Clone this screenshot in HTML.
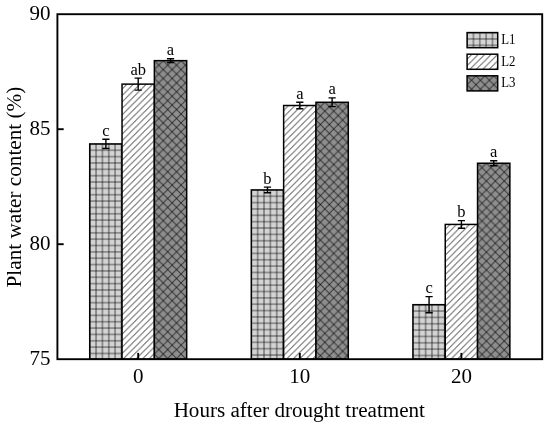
<!DOCTYPE html>
<html><head><meta charset="utf-8"><title>Plant water content</title>
<style>html,body{margin:0;padding:0;background:#fff;width:550px;height:424px;overflow:hidden}svg{display:block}</style>
</head><body>
<svg width="550" height="424" viewBox="0 0 550 424" font-family="'Liberation Serif', 'Times New Roman', serif" fill="#000">
<defs><pattern id="p1" patternUnits="userSpaceOnUse" x="89.72" y="143.92" width="6.35" height="6.35"><rect width="6.35" height="6.35" fill="#d3d3d3"/><path d="M-1 0H7.35M-1 6.35H7.35" stroke="#000" stroke-opacity="0.66" stroke-width="0.95"/><path d="M0 -1V7.35M6.35 -1V7.35" stroke="#000" stroke-opacity="0.66" stroke-width="0.95"/></pattern><pattern id="p2" patternUnits="userSpaceOnUse" x="122.04" y="84.12" width="6.45" height="6.45"><rect width="6.45" height="6.45" fill="#fff"/><path d="M5.000 -6.450L-6.450 5.000M11.450 -6.450L-6.450 11.450M17.900 -6.450L-6.450 17.900M24.350 -6.450L-6.450 24.350" stroke="#000" stroke-opacity="0.92" stroke-width="0.9"/></pattern><pattern id="p3" patternUnits="userSpaceOnUse" x="154.36" y="60.66" width="8.89" height="8.89"><rect width="8.89" height="8.89" fill="#8e8e8e"/><path d="M-8.89 -8.89L17.78 17.78M-8.89 0L8.89 17.78M0 -8.89L17.78 8.89" stroke="#000" stroke-opacity="0.6" stroke-width="1.0"/><path d="M-8.89 17.78L17.78 -8.89M-8.89 8.89L8.89 -8.89M0 17.78L17.78 0" stroke="#000" stroke-opacity="0.6" stroke-width="1.0"/></pattern><pattern id="p4" patternUnits="userSpaceOnUse" x="251.32" y="189.92" width="6.35" height="6.35"><rect width="6.35" height="6.35" fill="#d3d3d3"/><path d="M-1 0H7.35M-1 6.35H7.35" stroke="#000" stroke-opacity="0.66" stroke-width="0.95"/><path d="M0 -1V7.35M6.35 -1V7.35" stroke="#000" stroke-opacity="0.66" stroke-width="0.95"/></pattern><pattern id="p5" patternUnits="userSpaceOnUse" x="283.64" y="105.51" width="6.45" height="6.45"><rect width="6.45" height="6.45" fill="#fff"/><path d="M5.000 -6.450L-6.450 5.000M11.450 -6.450L-6.450 11.450M17.900 -6.450L-6.450 17.900M24.350 -6.450L-6.450 24.350" stroke="#000" stroke-opacity="0.92" stroke-width="0.9"/></pattern><pattern id="p6" patternUnits="userSpaceOnUse" x="315.96" y="102.29" width="8.89" height="8.89"><rect width="8.89" height="8.89" fill="#8e8e8e"/><path d="M-8.89 -8.89L17.78 17.78M-8.89 0L8.89 17.78M0 -8.89L17.78 8.89" stroke="#000" stroke-opacity="0.6" stroke-width="1.0"/><path d="M-8.89 17.78L17.78 -8.89M-8.89 8.89L8.89 -8.89M0 17.78L17.78 0" stroke="#000" stroke-opacity="0.6" stroke-width="1.0"/></pattern><pattern id="p7" patternUnits="userSpaceOnUse" x="412.92" y="304.69" width="6.35" height="6.35"><rect width="6.35" height="6.35" fill="#d3d3d3"/><path d="M-1 0H7.35M-1 6.35H7.35" stroke="#000" stroke-opacity="0.66" stroke-width="0.95"/><path d="M0 -1V7.35M6.35 -1V7.35" stroke="#000" stroke-opacity="0.66" stroke-width="0.95"/></pattern><pattern id="p8" patternUnits="userSpaceOnUse" x="445.24" y="224.42" width="6.45" height="6.45"><rect width="6.45" height="6.45" fill="#fff"/><path d="M5.000 -6.450L-6.450 5.000M11.450 -6.450L-6.450 11.450M17.900 -6.450L-6.450 17.900M24.350 -6.450L-6.450 24.350" stroke="#000" stroke-opacity="0.92" stroke-width="0.9"/></pattern><pattern id="p9" patternUnits="userSpaceOnUse" x="477.56" y="163.24" width="8.89" height="8.89"><rect width="8.89" height="8.89" fill="#8e8e8e"/><path d="M-8.89 -8.89L17.78 17.78M-8.89 0L8.89 17.78M0 -8.89L17.78 8.89" stroke="#000" stroke-opacity="0.6" stroke-width="1.0"/><path d="M-8.89 17.78L17.78 -8.89M-8.89 8.89L8.89 -8.89M0 17.78L17.78 0" stroke="#000" stroke-opacity="0.6" stroke-width="1.0"/></pattern><pattern id="p10" patternUnits="userSpaceOnUse" x="467.10" y="32.60" width="6.35" height="6.35"><rect width="6.35" height="6.35" fill="#d3d3d3"/><path d="M-1 0H7.35M-1 6.35H7.35" stroke="#000" stroke-opacity="0.66" stroke-width="0.95"/><path d="M0 -1V7.35M6.35 -1V7.35" stroke="#000" stroke-opacity="0.66" stroke-width="0.95"/></pattern><pattern id="p11" patternUnits="userSpaceOnUse" x="467.10" y="54.20" width="6.45" height="6.45"><rect width="6.45" height="6.45" fill="#fff"/><path d="M5.000 -6.450L-6.450 5.000M11.450 -6.450L-6.450 11.450M17.900 -6.450L-6.450 17.900M24.350 -6.450L-6.450 24.350" stroke="#000" stroke-opacity="0.92" stroke-width="0.9"/></pattern><pattern id="p12" patternUnits="userSpaceOnUse" x="467.10" y="75.80" width="8.89" height="8.89"><rect width="8.89" height="8.89" fill="#8e8e8e"/><path d="M-8.89 -8.89L17.78 17.78M-8.89 0L8.89 17.78M0 -8.89L17.78 8.89" stroke="#000" stroke-opacity="0.6" stroke-width="1.0"/><path d="M-8.89 17.78L17.78 -8.89M-8.89 8.89L8.89 -8.89M0 17.78L17.78 0" stroke="#000" stroke-opacity="0.6" stroke-width="1.0"/></pattern><filter id="soft" x="0" y="0" width="100%" height="100%" filterUnits="userSpaceOnUse"><feGaussianBlur stdDeviation="0.3"/></filter></defs>
<rect width="550" height="424" fill="#fff"/>
<g filter="url(#soft)">
<rect width="550" height="424" fill="#fff"/>
<rect x="89.72" y="143.92" width="32.32" height="215.28" fill="url(#p1)" stroke="#000" stroke-width="1.5"/>
<rect x="122.04" y="84.12" width="32.32" height="275.08" fill="url(#p2)" stroke="#000" stroke-width="1.5"/>
<rect x="154.36" y="60.66" width="32.32" height="298.54" fill="url(#p3)" stroke="#000" stroke-width="1.5"/>
<rect x="251.32" y="189.92" width="32.32" height="169.28" fill="url(#p4)" stroke="#000" stroke-width="1.5"/>
<rect x="283.64" y="105.51" width="32.32" height="253.69" fill="url(#p5)" stroke="#000" stroke-width="1.5"/>
<rect x="315.96" y="102.29" width="32.32" height="256.91" fill="url(#p6)" stroke="#000" stroke-width="1.5"/>
<rect x="412.92" y="304.69" width="32.32" height="54.51" fill="url(#p7)" stroke="#000" stroke-width="1.5"/>
<rect x="445.24" y="224.42" width="32.32" height="134.78" fill="url(#p8)" stroke="#000" stroke-width="1.5"/>
<rect x="477.56" y="163.24" width="32.32" height="195.96" fill="url(#p9)" stroke="#000" stroke-width="1.5"/>
<path d="M105.88 139.32V148.52M102.28 139.32H109.48M102.28 148.52H109.48" stroke="#000" stroke-width="1.4" fill="none"/>
<text x="105.88" y="135.72" text-anchor="middle" font-size="16.5">c</text>
<path d="M138.20 78.14V90.10M134.60 78.14H141.80M134.60 90.10H141.80" stroke="#000" stroke-width="1.4" fill="none"/>
<text x="138.20" y="74.54" text-anchor="middle" font-size="16.5">ab</text>
<path d="M170.52 58.82V62.50M166.92 58.82H174.12M166.92 62.50H174.12" stroke="#000" stroke-width="1.4" fill="none"/>
<text x="170.52" y="55.22" text-anchor="middle" font-size="16.5">a</text>
<path d="M267.48 187.16V192.68M263.88 187.16H271.08M263.88 192.68H271.08" stroke="#000" stroke-width="1.4" fill="none"/>
<text x="267.48" y="183.56" text-anchor="middle" font-size="16.5">b</text>
<path d="M299.80 102.29V108.73M296.20 102.29H303.40M296.20 108.73H303.40" stroke="#000" stroke-width="1.4" fill="none"/>
<text x="299.80" y="98.69" text-anchor="middle" font-size="16.5">a</text>
<path d="M332.12 97.92V106.66M328.52 97.92H335.72M328.52 106.66H335.72" stroke="#000" stroke-width="1.4" fill="none"/>
<text x="332.12" y="94.32" text-anchor="middle" font-size="16.5">a</text>
<path d="M429.08 296.64V312.74M425.48 296.64H432.68M425.48 312.74H432.68" stroke="#000" stroke-width="1.4" fill="none"/>
<text x="429.08" y="293.04" text-anchor="middle" font-size="16.5">c</text>
<path d="M461.40 220.62V228.22M457.80 220.62H465.00M457.80 228.22H465.00" stroke="#000" stroke-width="1.4" fill="none"/>
<text x="461.40" y="217.02" text-anchor="middle" font-size="16.5">b</text>
<path d="M493.72 160.71V165.77M490.12 160.71H497.32M490.12 165.77H497.32" stroke="#000" stroke-width="1.4" fill="none"/>
<text x="493.72" y="157.11" text-anchor="middle" font-size="16.5">a</text>
<rect x="57.4" y="14.2" width="484.80" height="345.00" fill="none" stroke="#000" stroke-width="1.9"/>
<text transform="translate(50.50 365.40) scale(0.955 1)" text-anchor="end" font-size="22">75</text>
<path d="M57.4 244.20H63.699999999999996" stroke="#000" stroke-width="1.9"/>
<text transform="translate(50.50 250.40) scale(0.955 1)" text-anchor="end" font-size="22">80</text>
<path d="M57.4 129.20H63.699999999999996" stroke="#000" stroke-width="1.9"/>
<text transform="translate(50.50 135.40) scale(0.955 1)" text-anchor="end" font-size="22">85</text>
<text transform="translate(50.50 20.40) scale(0.955 1)" text-anchor="end" font-size="22">90</text>
<path d="M138.20 359.2V352.9" stroke="#000" stroke-width="1.9"/>
<text transform="translate(138.20 382.5) scale(0.955 1)" text-anchor="middle" font-size="22">0</text>
<path d="M299.80 359.2V352.9" stroke="#000" stroke-width="1.9"/>
<text transform="translate(299.80 382.5) scale(0.955 1)" text-anchor="middle" font-size="22">10</text>
<path d="M461.40 359.2V352.9" stroke="#000" stroke-width="1.9"/>
<text transform="translate(461.40 382.5) scale(0.955 1)" text-anchor="middle" font-size="22">20</text>
<text x="299.3" y="416.8" text-anchor="middle" font-size="21.1">Hours after drought treatment</text>
<text transform="translate(21.1 187.1) rotate(-90)" text-anchor="middle" font-size="21.2">Plant water content (%)</text>
<rect x="467.1" y="32.6" width="30.6" height="15.1" fill="url(#p10)" stroke="#000" stroke-width="1.5"/>
<text transform="translate(501.2 44.25) scale(0.9 1)" font-size="14.3">L1</text>
<rect x="467.1" y="54.2" width="30.6" height="15.1" fill="url(#p11)" stroke="#000" stroke-width="1.5"/>
<text transform="translate(501.2 65.85) scale(0.9 1)" font-size="14.3">L2</text>
<rect x="467.1" y="75.8" width="30.6" height="15.1" fill="url(#p12)" stroke="#000" stroke-width="1.5"/>
<text transform="translate(501.2 87.45) scale(0.9 1)" font-size="14.3">L3</text>
</g>
</svg>
</body></html>
